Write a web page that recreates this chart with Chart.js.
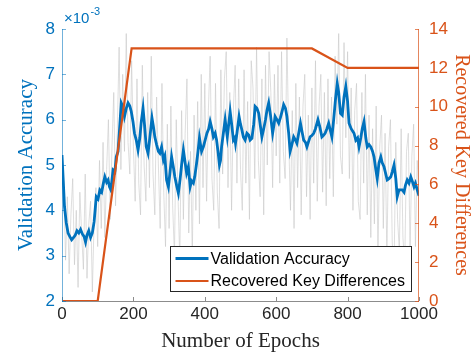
<!DOCTYPE html>
<html><head><meta charset="utf-8">
<script src="https://cdn.jsdelivr.net/npm/chart.js@4.4.1/dist/chart.umd.min.js"></script>
<style>html,body{margin:0;padding:0;background:#fff;}canvas{display:block;}</style>
</head><body>
<canvas id="c" width="474" height="355"></canvas>
<script>
// ---- data (validation accuracy in units of 1e-3) ----
const smoothEpochs = [0,3,7,12,17,22,27,32,37,42,47,52,57,62,66,70,75,80,85,90,96,101,106,111,116,120,125,129,133,137,143,148,152,157,161,166,170,175,180,185,190,194,199,203,208,213,218,222,227,231,236,241,246,252,256,260,265,270,274,279,284,288,293,298,302,307,312,316,321,326,331,335,340,345,349,354,359,363,368,372,377,381,385,391,396,401,406,411,415,420,424,429,433,437,441,444,447,452,457,460,463,467,471,476,480,484,486,490,496,500,504,508,513,518,523,527,532,537,541,546,551,555,560,565,570,574,579,584,590,594,597,602,607,612,617,621,626,630,635,639,644,649,654,658,663,668,672,677,682,686,690,695,700,705,710,717,722,728,732,737,742,747,752,756,761,766,771,775,780,785,790,795,800,804,810,814,818,823,828,832,837,841,846,851,855,860,865,870,874,879,883,888,893,897,902,907,911,916,921,925,930,935,939,944,949,953,958,962,967,972,977,981,986,990,995,1000];
const smoothAccuracy = [5.22,4.74,4.08,3.72,3.5,3.42,3.35,3.4,3.45,3.55,3.5,3.58,3.48,3.42,3.3,3.45,3.55,3.4,3.5,3.75,4.3,4.25,4.45,4.4,4.6,4.74,4.62,4.67,4.52,4.45,4.89,4.85,5.18,5.3,5.77,6.37,6.3,6.07,6.25,6.37,6.3,6.18,5.95,5.7,5.55,5.33,5.6,5.95,6.25,5.9,5.4,5.26,5.6,6.04,5.85,5.62,5.45,5.3,5.26,5.4,5.11,5.2,4.67,4.52,4.8,5.18,4.95,4.74,4.55,4.38,4.7,5.0,5.33,5.05,4.82,4.96,4.52,4.65,4.6,4.75,5.04,5.3,5.6,5.3,5.4,5.55,5.7,5.8,5.96,5.8,5.62,5.7,5.55,5.3,5.0,5.1,5.4,5.7,6.0,5.8,5.62,5.9,6.18,5.85,5.55,5.6,5.48,5.7,6.07,5.9,5.77,5.62,5.55,5.7,5.66,5.55,5.59,5.9,6.29,6.25,6.14,5.9,5.62,5.8,6.0,6.2,6.37,6.1,5.7,5.9,6.07,6.0,5.92,6.05,6.2,6.33,6.25,6.07,5.7,5.3,5.45,5.62,5.55,5.48,5.7,5.92,5.75,5.55,5.5,5.4,5.5,5.62,5.65,5.7,5.8,6.0,5.85,5.62,5.65,5.7,5.8,5.92,5.75,5.62,6.0,6.44,6.8,6.6,6.14,6.1,6.5,6.73,6.4,5.92,5.8,5.75,5.7,5.55,5.6,5.4,5.6,5.8,5.96,5.6,5.4,5.45,5.4,5.3,5.18,4.9,4.7,5.05,5.18,5.05,4.96,4.8,4.67,4.7,4.74,4.85,5.0,4.7,4.3,4.45,4.45,4.45,4.4,4.55,4.67,4.6,4.74,4.65,4.52,4.6,4.45,4.32];
// raw (unsmoothed) accuracy, one reading every 5 epochs
const rawAccuracy = [
5.2,4.6,2.9,4.3,2.6,3.9,4.7,2.8,4.0,2.3,4.4,3.5,2.7,4.8,2.5,3.7,4.2,2.2,3.8,4.5,
3.2,5.1,3.6,5.5,3.4,4.9,6.0,3.8,5.4,6.6,4.1,5.8,7.6,4.9,7.0,5.3,7.9,5.5,4.8,7.3,
5.4,4.2,6.9,4.6,3.9,7.2,5.0,4.2,6.6,4.5,7.4,4.8,3.9,6.5,5.0,3.6,6.8,4.4,3.2,5.9,
3.6,6.3,4.1,3.0,6.0,4.3,2.9,6.2,3.8,5.7,6.9,3.5,5.3,3.0,6.1,4.0,6.4,3.7,7.0,4.5,
6.8,4.2,6.2,7.4,4.7,4.0,6.8,4.4,3.6,7.1,4.8,6.9,7.5,4.5,6.6,4.0,6.2,7.2,4.6,6.9,
4.9,4.0,7.1,4.6,6.4,3.8,7.3,6.7,4.7,7.6,5.1,4.3,6.9,3.9,7.2,5.0,7.5,6.6,4.5,7.0,
5.2,7.2,4.6,7.5,5.3,4.7,7.8,5.6,4.0,6.2,3.6,6.8,4.5,6.5,3.9,6.3,7.0,4.3,6.1,3.8,
6.7,4.6,7.3,4.2,6.3,7.0,4.4,6.6,4.1,6.9,4.7,6.5,4.3,7.4,5.9,7.9,5.2,4.8,7.7,5.6,
7.5,4.7,6.7,4.0,6.2,6.8,4.2,3.8,6.6,4.6,7.0,3.9,6.1,3.4,5.8,3.7,6.3,3.0,5.4,6.1,
3.6,5.7,3.0,5.4,6.0,3.3,2.6,5.5,3.8,3.1,5.8,3.4,2.8,5.3,5.7,3.1,5.2,5.9,3.2,5.1,
4.4];
const rawStep = 5;
const keyEpochs = [0,100,195,700,800,1000];
const keyDiffs = [0,0,13,13,12,12];
const xTicks = [0,200,400,600,800,1000];
const leftTicks = [2,3,4,5,6,7,8];
const rightTicks = [0,2,4,6,8,10,12,14];

const BLUE = '#0072BD', ORANGE = '#D95319', DARK = '#262626';
const SANS = "'Liberation Sans', Arial, sans-serif";
const SERIF = "'Liberation Serif', 'Times New Roman', serif";

const smoothData = smoothEpochs.map((e,i)=>({x:e,y:smoothAccuracy[i]}));
const rawData = rawAccuracy.map((v,i)=>({x:i*rawStep,y:v}));
const keyData = keyEpochs.map((e,i)=>({x:e,y:keyDiffs[i]}));

const axesPlugin = {
  id:'matlabAxes',
  afterDatasetsDraw(chart){
    const {ctx, chartArea:a, scales} = chart;
    ctx.save();
    ctx.lineWidth = 1;
    ctx.strokeStyle = '#8c8c8c';
    ctx.beginPath();
    ctx.moveTo(a.left, a.bottom+0.5); ctx.lineTo(a.right, a.bottom+0.5);
    scales.x.ticks.forEach(t=>{
      const p = Math.round(scales.x.getPixelForValue(t.value))+0.5;
      ctx.moveTo(p, a.bottom); ctx.lineTo(p, a.bottom-4);
    });
    ctx.stroke();
    ctx.strokeStyle = 'rgba(0,114,189,0.55)';
    ctx.beginPath();
    ctx.moveTo(a.left+0.5, a.top); ctx.lineTo(a.left+0.5, a.bottom+1);
    scales.y.ticks.forEach(t=>{
      const p = Math.round(scales.y.getPixelForValue(t.value))+0.5;
      ctx.moveTo(a.left, p); ctx.lineTo(a.left+4, p);
    });
    ctx.stroke();
    ctx.strokeStyle = 'rgba(217,83,25,0.7)';
    ctx.beginPath();
    ctx.moveTo(a.right-0.5, a.top); ctx.lineTo(a.right-0.5, a.bottom+1);
    scales.y2.ticks.forEach(t=>{
      const p = Math.round(scales.y2.getPixelForValue(t.value))+0.5;
      ctx.moveTo(a.right, p); ctx.lineTo(a.right-4, p);
    });
    ctx.stroke();
    ctx.fillStyle = BLUE;
    ctx.textBaseline = 'alphabetic';
    ctx.textAlign = 'left';
    ctx.font = '15px ' + SANS;
    ctx.fillText('\u00D710', a.left+2, 23);
    const w = ctx.measureText('\u00D710').width;
    ctx.font = '11px ' + SANS;
    ctx.fillText('-3', a.left+2+w+1, 15);
    ctx.restore();
  },
  afterDraw(chart){
    const {ctx} = chart;
    const ds = chart.data.datasets;
    const entries = [ds[1], ds[0]];
    ctx.save();
    const x0 = 170.5, y0 = 246.5, w = 241, h = 45;
    ctx.fillStyle = '#fff';
    ctx.fillRect(x0, y0, w, h);
    ctx.strokeStyle = DARK; ctx.lineWidth = 1;
    ctx.strokeRect(x0, y0, w, h);
    ctx.font = '16px ' + SANS;
    ctx.textBaseline = 'middle';
    ctx.textAlign = 'left';
    entries.forEach((d,i)=>{
      const yy = y0 + 12 + i*22.5;
      ctx.strokeStyle = d.borderColor; ctx.lineWidth = d.borderWidth;
      ctx.beginPath(); ctx.moveTo(x0+5, yy); ctx.lineTo(x0+38, yy); ctx.stroke();
      ctx.fillStyle = '#000';
      ctx.fillText(d.label, x0+40, yy+1);
    });
    ctx.restore();
  }
};

new Chart(document.getElementById('c'), {
  type:'line',
  data:{datasets:[
    {label:'Recovered Key Differences', data:keyData, yAxisID:'y2', borderColor:ORANGE, borderWidth:2.2, pointRadius:0, tension:0, fill:false},
    {label:'Validation Accuracy', data:smoothData, yAxisID:'y', borderColor:BLUE, borderWidth:2.8, pointRadius:0, tension:0, fill:false},
    {label:'raw', data:rawData, yAxisID:'y', borderColor:'rgba(200,200,200,0.6)', borderWidth:1, pointRadius:0, tension:0, fill:false}
  ]},
  options:{
    responsive:false, animation:false, devicePixelRatio:1,
    layout:{padding:{top:29,left:0,right:0,bottom:0}},
    plugins:{legend:{display:false}, tooltip:{enabled:false}},
    scales:{
      x:{type:'linear', min:0, max:1000, afterFit(s){s.height=54;},
        afterBuildTicks(s){s.ticks = xTicks.map(v=>({value:v}));},
        grid:{display:false, drawTicks:false}, border:{display:false},
        ticks:{color:DARK, font:{family:SANS, size:17}, padding:3, maxRotation:0, callback:v=>String(v)},
        title:{display:true, text:'Number of Epochs', color:DARK, font:{family:SERIF, size:21}, padding:0.7}
      },
      y:{type:'linear', position:'left', min:2, max:8, afterFit(s){s.width=62;},
        afterBuildTicks(s){s.ticks = leftTicks.map(v=>({value:v}));},
        grid:{display:false, drawTicks:false}, border:{display:false},
        ticks:{color:BLUE, font:{family:SANS, size:17}, padding:7, callback:v=>String(v)},
        title:{display:true, text:'Validation Accuracy', color:BLUE, font:{family:SERIF, size:21}, padding:14}
      },
      y2:{type:'linear', position:'right', min:0, max:14, afterFit(s){s.width=55;},
        afterBuildTicks(s){s.ticks = rightTicks.map(v=>({value:v}));},
        grid:{display:false, drawTicks:false}, border:{display:false},
        ticks:{color:ORANGE, font:{family:SANS, size:17}, padding:10, callback:v=>String(v)},
        title:{display:true, text:'Recovered Key Differences', color:ORANGE, font:{family:SERIF, size:20}, padding:1}
      }
    }
  },
  plugins:[axesPlugin]
});
</script>
</body></html>
